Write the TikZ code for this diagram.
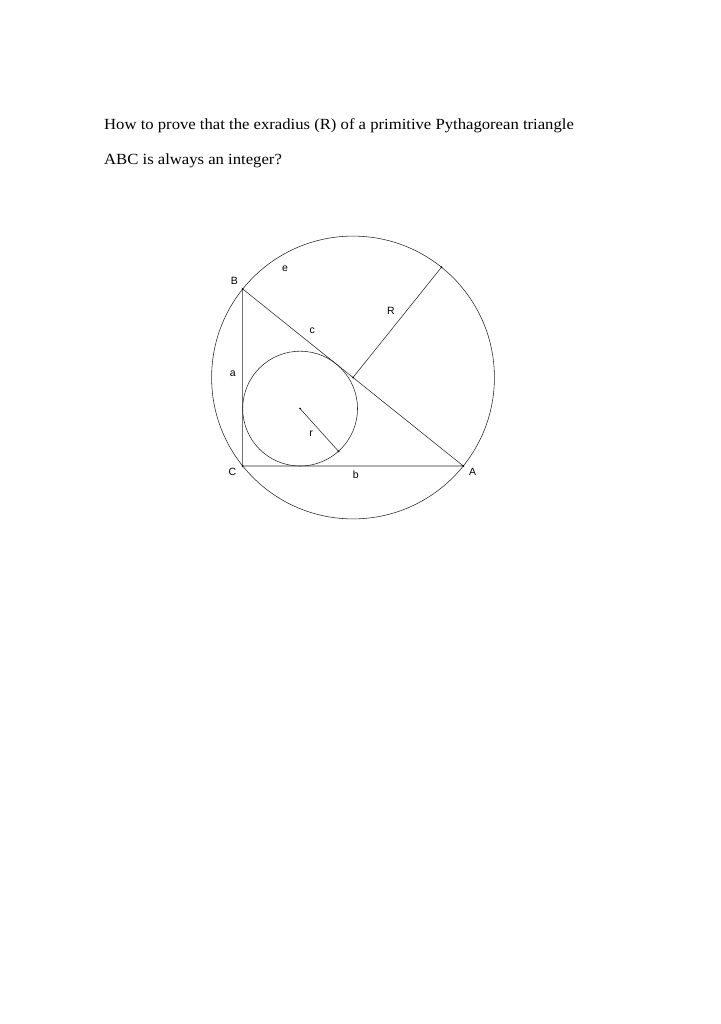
\documentclass[tikz,border=0pt]{standalone}
\usepackage{fontspec}
\setmainfont{Liberation Serif}
\newfontfamily\labfont{Liberation Sans}
\usetikzlibrary{calc}
\newcommand{\widetext}[1]{\scalebox{1.075}[1]{#1}}
\tikzset{
  geo/.style={line width=0.55pt, black!85},
  dot/.style={circle, fill=black, inner sep=0pt, minimum size=2pt},
  lab/.style={font=\labfont\fontsize{10.5}{12}\selectfont, inner sep=0pt},
  title/.style={font=\fontsize{15.5}{18}\selectfont, anchor=base west, inner sep=0pt}
}
\begin{document}
\begin{tikzpicture}[x=1pt,y=-1pt]
\useasboundingbox[fill=white] (0,0) rectangle (720,1024);
\node[title] (t1) at (104,129.5) {\widetext{How to prove that the exradius (R) of a primitive Pythagorean triangle}};
\node[title] (t2) at (104,165) {\widetext{ABC is always an integer?}};
% points
\coordinate (B) at (242.7,289);
\coordinate (C) at (242.7,466);
\coordinate (A) at (463.3,466);
\coordinate (M) at ($(B)!0.5!(A)$);
\coordinate (Rend) at ($(M)+(88.5,-110.3)$);
\coordinate (I) at (300.1,408.6);
\coordinate (rend) at ($(I)+(38.4,42.7)$);
% circles
\draw[geo] (M) circle[radius=141.4pt];
\draw[geo] (I) circle[radius=57.4pt];
% triangle
\draw[geo] (B) -- (C) -- (A) -- cycle;
\draw[geo] (M) -- (Rend);
\draw[geo] (I) -- (rend);
% dots
\foreach \p in {B,C,A,M,Rend,I,rend} \node[dot] at (\p) {};
% labels
\node[lab] (lB) at (234.3,281) {B};
\node[lab] (lC) at (232.3,471.7) {C};
\node[lab] (lA) at (472.7,471.7) {A};
\node[lab] (le) at (285,268.3) {e};
\node[lab] (lR) at (391,310.7) {R};
\node[lab] (lc) at (312.3,331) {c};
\node[lab] (la) at (232.7,374) {a};
\node[lab] (lr) at (311,433.3) {r};
\node[lab] (lb) at (355.7,474.3) {b};
\end{tikzpicture}
\end{document}
